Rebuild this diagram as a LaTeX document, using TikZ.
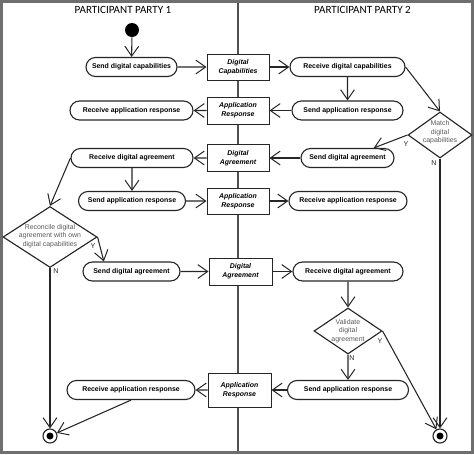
\documentclass[tikz,border=0pt]{standalone}
\usepackage{fontspec}
\setmainfont{Liberation Sans}
\newfontfamily\headfont{Carlito}
\usetikzlibrary{shapes.misc,shapes.geometric,arrows.meta}
\definecolor{framegray}{HTML}{6E6E6E}
\definecolor{lanegray}{HTML}{505050}
\definecolor{dectxt}{HTML}{5A5A5A}
\definecolor{ink}{HTML}{262626}
\begin{document}
\begin{tikzpicture}[x=0.75pt,y=-0.75pt,
  flow/.style={draw=ink, line width=0.8pt, -{Straight Barb[angle=70:9pt,line width=0.75pt]}},
  act/.style={draw=ink, line width=0.85pt, rounded rectangle, inner sep=0pt, fill=white,
    minimum height=19*0.75pt, font=\fontsize{5.2pt}{6pt}\selectfont\bfseries},
  obj/.style={draw=ink, line width=0.75pt, fill=white, inner sep=0pt, align=center,
    font=\fontsize{5.2pt}{6.8pt}\selectfont\bfseries\itshape},
  dec/.style={draw=ink, line width=0.85pt, diamond, inner sep=0pt, fill=white},
  dectext/.style={align=center, text=dectxt, inner sep=0pt,
    font=\fontsize{5.2pt}{6.5pt}\selectfont},
  guard/.style={inner sep=0pt, text=black!85, font=\fontsize{5.3pt}{6pt}\selectfont},
  lane/.style={inner sep=0pt, font=\headfont\fontsize{8.3pt}{10pt}\selectfont},
  initial/.style={circle, fill=black, inner sep=0pt, minimum size=14*0.75pt},
  final/.style={circle, draw=ink, line width=0.85pt, fill=white, inner sep=0pt, minimum size=14*0.75pt},
  finaldot/.style={circle, fill=black, inner sep=0pt, minimum size=7*0.75pt}
]
\useasboundingbox (0,0) rectangle (474,454);

% swimlane divider and outer frame
\draw[lanegray, line width=1.1pt] (238,0) -- (238,454);
\draw[framegray, line width=2.25pt] (1.5,1.5) rectangle (472.5,452.5);

% lane headings
\node[lane] (h1) at (123,9.8) {PARTICIPANT PARTY 1};
\node[lane] (h2) at (362.5,9.8) {PARTICIPANT PARTY 2};

% initial and final nodes
\node[initial] (start) at (132,30) {};
\node[final] (end1) at (50,436) {};
\node[finaldot] (end1dot) at (end1) {};
\node[final] (end2) at (440,436) {};
\node[finaldot] (end2dot) at (end2) {};

% party 1 actions
\node[act, minimum width=91*0.75pt]  (sdc1) at (131.5,67)    {Send digital capabilities};
\node[act, minimum width=123*0.75pt] (rar1) at (131.5,110.5) {Receive application response};
\node[act, minimum width=122*0.75pt] (rda1) at (132,158)     {Receive digital agreement};
\node[act, minimum width=107*0.75pt] (sar1) at (132,201)     {Send application response};
\node[act, minimum width=97*0.75pt]  (sda1) at (131.5,271.5) {Send digital agreement};
\node[act, minimum width=128*0.75pt] (rar3) at (131,390)     {Receive application response};

% party 2 actions
\node[act, minimum width=115*0.75pt] (rdc2) at (347.5,67)    {Receive digital capabilities};
\node[act, minimum width=111*0.75pt] (sar2) at (347.5,110.5) {Send application response};
\node[act, minimum width=93*0.75pt]  (sda2) at (347.5,158)   {Send digital agreement};
\node[act, minimum width=118*0.75pt] (rar2) at (348,201)     {Receive application response};
\node[act, minimum width=110*0.75pt] (rda2) at (348,271.5)   {Receive digital agreement};
\node[act, minimum width=121*0.75pt] (sar3) at (348,390)     {Send application response};

% exchanged objects on the lane boundary
\node[obj, minimum width=62*0.75pt, minimum height=26*0.75pt] (oA) at (238,67)    {Digital\\Capabilities};
\node[obj, minimum width=62*0.75pt, minimum height=27*0.75pt] (oB) at (238,110.5) {Application\\Response};
\node[obj, minimum width=62*0.75pt, minimum height=27*0.75pt] (oC) at (238,158)   {Digital\\Agreement};
\node[obj, minimum width=62*0.75pt, minimum height=26*0.75pt] (oD) at (238,201)   {Application\\Response};
\node[obj, minimum width=63*0.75pt, minimum height=27*0.75pt] (oE) at (240.5,271.5) {Digital\\Agreement};
\node[obj, minimum width=63*0.75pt, minimum height=34*0.75pt] (oF) at (239.5,390) {Application\\Response};

% decisions
\node[dec, minimum width=64*0.75pt, minimum height=46*0.75pt] (match) at (440,135) {};
\node[dectext] (matcht) at (440,132.5) {Match\\digital\\capabilities};
\node[dec, minimum width=94*0.75pt, minimum height=61*0.75pt] (rec) at (50,237) {};
\node[dectext] (rect) at (50,236) {Reconcile digital\\agreement with own\\digital capabilities};
\node[dec, minimum width=68*0.75pt, minimum height=46*0.75pt] (val) at (348,331) {};
\node[dectext] (valt) at (348,331) {Validate\\digital\\agreement};

% guards
\node[guard] (gy1) at (406,144) {Y};
\node[guard] (gn1) at (434,163) {N};
\node[guard] (gy2) at (93,246)  {Y};
\node[guard] (gn2) at (56,271)  {N};
\node[guard] (gy3) at (380,341) {Y};
\node[guard] (gn3) at (352,358) {N};

% control and object flows
\draw[flow] (start) -- (sdc1);
\draw[flow] (sdc1) -- (oA);
\draw[flow] (oA) -- (rdc2);
\draw[flow] (rdc2) -- (sar2);
\draw[flow] (sar2) -- (oB);
\draw[flow] (oB) -- (rar1);
\draw[flow] (rdc2.east) -- (match.north);
\draw[flow] (match.west) -- (sda2);
\draw[flow] (match.south) -- (end2);
\draw[flow] (sda2) -- (oC);
\draw[flow] (oC) -- (rda1);
\draw[flow] (rda1) -- (sar1);
\draw[flow] (sar1) -- (oD);
\draw[flow] (oD) -- (rar2);
\draw[flow] (rda1.west) -- (rec.north);
\draw[flow] (rec.east) -- (sda1.160);
\draw[flow] (rec.south) -- (end1);
\draw[flow] (sda1) -- (oE);
\draw[flow] (oE) -- (rda2);
\draw[flow] (rda2) -- (val);
\draw[flow] (val) -- (sar3);
\draw[flow] (val.east) -- (end2);
\draw[flow] (sar3) -- (oF);
\draw[flow] (oF) -- (rar3);
\draw[flow] (rar3.south) -- (end1);
\end{tikzpicture}
\end{document}
